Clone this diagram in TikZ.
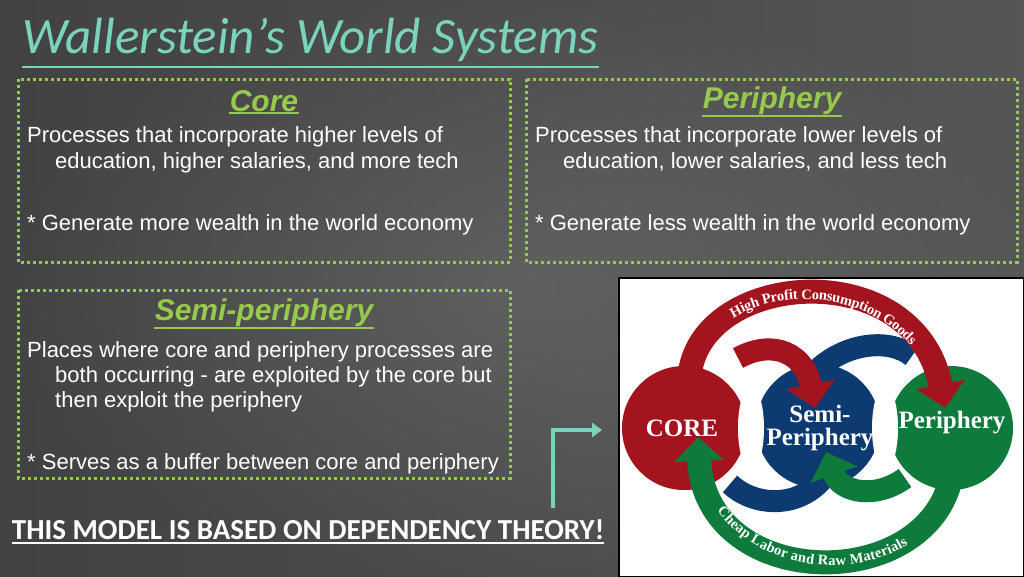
\documentclass[tikz,border=0pt]{standalone}
\usepackage{fontspec}
\setmainfont{Liberation Sans}
\newfontfamily\carl{Carlito}
\newfontfamily\serifb{Liberation Serif}
\usetikzlibrary{arrows.meta,decorations.text}
\definecolor{hdr}{HTML}{96CA4C}
\definecolor{ttl}{HTML}{7AD3BC}
\definecolor{cred}{HTML}{A3141E}
\definecolor{cblue}{HTML}{0E3A72}
\definecolor{cgreen}{HTML}{0E7A3C}
\begin{document}
\begin{tikzpicture}[x=1pt,y=-1pt,
  dbox/.style={draw=hdr,line width=3pt,dash pattern=on 3pt off 3pt},
  body/.style={anchor=base west,text=white,font=\fontsize{22}{22}\selectfont,inner sep=0},
  head/.style={text=hdr,font=\fontsize{30}{30}\selectfont\bfseries\itshape,inner sep=1pt},
  lbl/.style={text=white,font=\serifb\bfseries\fontsize{25}{23}\selectfont,align=center},
  band/.style={line width=24pt},
  tip/.style={-{Triangle[length=24pt,width=48pt]}}]
\useasboundingbox (0,0) rectangle (1024,576);
\shade[left color=black!78,right color=black!62] (0,0) rectangle (1024,576);
\shade[inner color=white!45!black,outer color=black!70,opacity=0.5] (0,0) rectangle (1024,576);
% title
\node[text=ttl,font=\carl\itshape\fontsize{51}{51}\selectfont,anchor=west,inner sep=0] (title) at (22,40) {Wallerstein’s World Systems};
\draw[ttl,line width=1.8pt] ([yshift=-5pt]title.south west) -- ([yshift=-5pt]title.south east);
% boxes
\draw[dbox] (18,79) rectangle (510,262);
\draw[dbox] (526,79) rectangle (1017,262);
\draw[dbox] (18,290) rectangle (510,478);
\node[head] (h1) at (264,101) {Core};
\draw[hdr,line width=1.5pt] (h1.south west) -- (h1.south east);
\node[head] (h2) at (772,101) {Periphery};
\draw[hdr,line width=1.5pt] (h2.south west) -- (h2.south east);
\node[head] (h3) at (264,313) {Semi-periphery};
\draw[hdr,line width=1.5pt] (h3.south west) -- (h3.south east);
\node[body] (a1) at (27,142) {Processes that incorporate higher levels of};
\node[body] (a2) at (55,168) {education, higher salaries, and more tech};
\node[body] (a3) at (27,230) {* Generate more wealth in the world economy};
\node[body] (b1) at (535,142) {Processes that incorporate lower levels of};
\node[body] (b2) at (563,168) {education, lower salaries, and less tech};
\node[body] (b3) at (535,230) {* Generate less wealth in the world economy};
\node[body] (c1) at (27,357) {Places where core and periphery processes are};
\node[body] (c2) at (55,382) {both occurring - are exploited by the core but};
\node[body] (c3) at (55,407) {then exploit the periphery};
\node[body] (c4) at (27,469) {* Serves as a buffer between core and periphery};
% bottom text
\node[text=white,font=\carl\bfseries\fontsize{29}{29}\selectfont,inner sep=0] (bt) at (308,530) {THIS MODEL IS BASED ON DEPENDENCY THEORY!};
\draw[white,line width=1.5pt] ([yshift=-3pt]bt.south west) -- ([yshift=-3pt]bt.south east);
% teal arrow
\coordinate (p1) at (553,508); \coordinate (p2) at (553,430); \coordinate (p3) at (602,430);
\draw[ttl,line width=4pt,-{Triangle[length=10pt,width=14pt]}] (p1) -- (p2) -- (p3);
% image
\draw[fill=white,draw=black,line width=1.5pt] (619,278) rectangle (1024,577);
\fill[cred] (684,428) circle (62);
\fill[cblue] (818,426) circle (62);
\fill[cgreen] (951,428) circle (62);
\fill[white] (751,428) ellipse (13 and 42);
\fill[white] (885,428) ellipse (13 and 42);
% blue bands
\draw[cblue,line width=22pt] (815,372) .. controls (845,342) and (890,338) .. (912,356);
\draw[cblue,line width=22pt] (822,480) .. controls (795,510) and (752,505) .. (730,484);
% small arrows
\draw[cred,line width=22pt,tip] (738,358) .. controls (775,338) and (805,355) .. (815,408);
\draw[cgreen,line width=22pt,tip] (905,478) .. controls (875,500) and (840,492) .. (826,452);
% big arcs
\draw[cred,band,tip] (690,372) .. controls (705,270) and (915,255) .. (945,408);
\draw[cgreen,band,tip] (950,482) .. controls (920,595) and (705,590) .. (698,437);
\path[decorate,decoration={text along path,text align=center,raise=-5pt,
  text={|\serifb\bfseries\fontsize{14.5}{14}\selectfont\color{white}|High Profit Consumption Goods}}]
  (690,372) .. controls (705,270) and (915,255) .. (945,408);
\path[decorate,decoration={text along path,text align=center,raise=-5pt,
  text={|\serifb\bfseries\fontsize{14.5}{14}\selectfont\color{white}|Cheap Labor and Raw Materials}}]
  (698,437) .. controls (705,590) and (920,595) .. (950,482);
\node[lbl] (core) at (682,428) {CORE};
\node[lbl] (semi) at (820,428) {Semi-\\Periphery};
\node[lbl] (peri) at (952,423) {Periphery};
\end{tikzpicture}
\end{document}
